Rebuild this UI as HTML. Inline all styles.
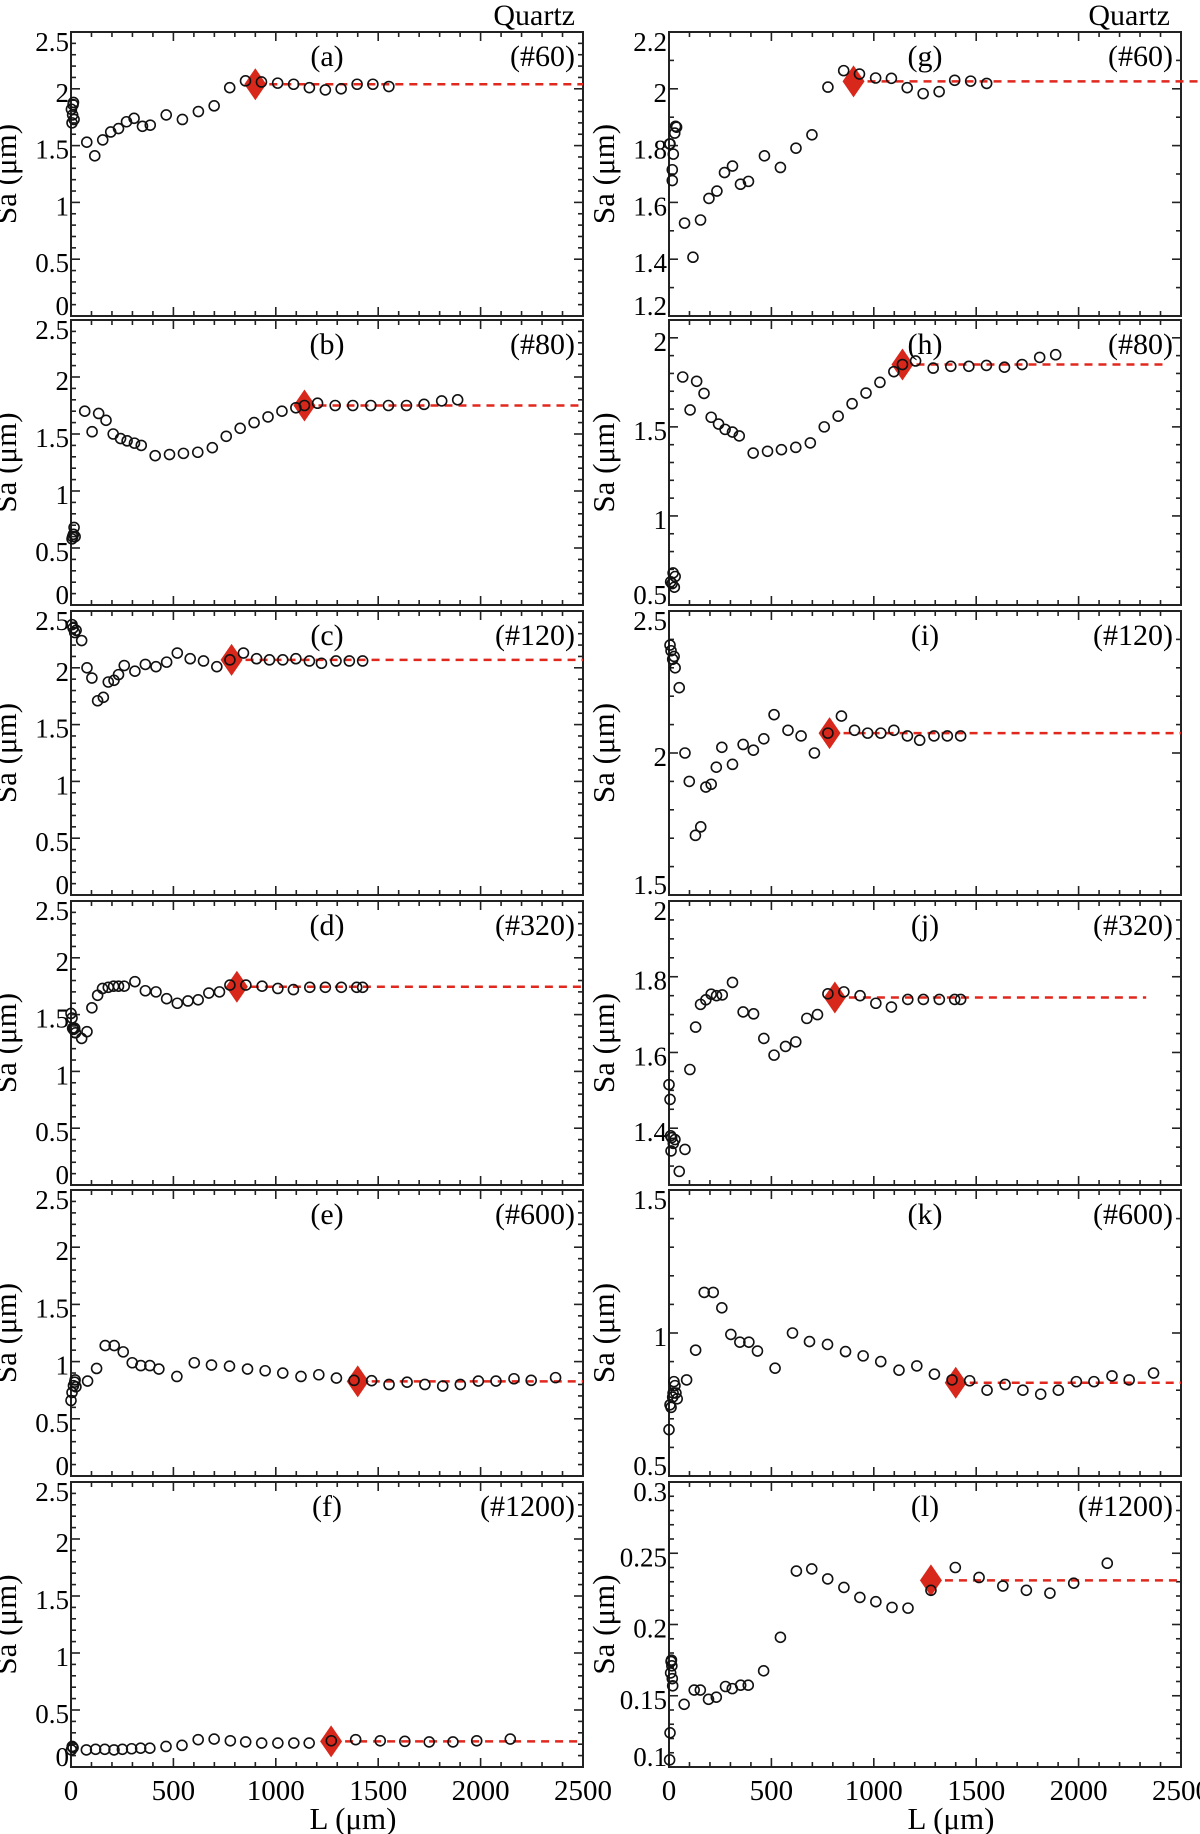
<!DOCTYPE html>
<html><head><meta charset="utf-8">
<style>
html,body{margin:0;padding:0;background:#fff;}
svg{display:block;}
text{font-family:"Liberation Serif",serif;fill:#000;}
</style></head>
<body>
<svg id="chart" width="1200" height="1834" viewBox="0 0 1200 1834" xmlns="http://www.w3.org/2000/svg">
<text x="575" y="25" font-size="30" text-anchor="end">Quartz</text>
<text x="1170" y="25" font-size="30" text-anchor="end">Quartz</text>
</svg>
<script>
// ---- data (L in µm, Sa in µm) ----
const aL=[2,5,8,10,12,15,77,116,155,194,232,271,308,349,387,465,544,622,699,775,852,930,1009,1087,1164,1242,1319,1397,1474,1552];
const aS=[1.82,1.70,1.77,1.86,1.88,1.73,1.53,1.41,1.55,1.62,1.65,1.71,1.74,1.67,1.68,1.77,1.73,1.80,1.85,2.01,2.07,2.06,2.05,2.04,2.01,1.99,2.00,2.04,2.04,2.02];
const bL=[5,8,12,15,20,67,103,135,171,206,242,274,310,343,411,481,549,619,690,758,826,894,962,1030,1098,1140,1204,1290,1376,1464,1550,1638,1724,1810,1888];
const bS=[0.58,0.60,0.62,0.68,0.60,1.70,1.52,1.68,1.62,1.50,1.46,1.44,1.42,1.40,1.31,1.32,1.33,1.34,1.38,1.48,1.55,1.60,1.65,1.70,1.73,1.75,1.77,1.75,1.75,1.75,1.75,1.75,1.76,1.79,1.80];
const cL=[5,10,18,25,52,78,102,130,158,182,210,232,260,312,363,415,467,519,582,647,712,776,842,906,969,1034,1098,1164,1223,1294,1359,1424];
const cS=[2.38,2.35,2.31,2.33,2.24,2.00,1.91,1.71,1.74,1.875,1.89,1.94,2.02,1.97,2.03,2.01,2.05,2.13,2.08,2.06,2.01,2.07,2.13,2.08,2.07,2.07,2.08,2.06,2.04,2.06,2.06,2.06];
const dL=[0,5,8,12,18,22,52,78,102,130,154,182,208,232,260,312,363,415,467,519,571,621,673,725,776,854,933,1010,1086,1166,1242,1320,1395,1424];
const dS=[1.51,1.47,1.38,1.37,1.38,1.34,1.29,1.35,1.56,1.67,1.73,1.74,1.75,1.75,1.75,1.79,1.71,1.70,1.64,1.60,1.62,1.63,1.69,1.70,1.76,1.76,1.75,1.73,1.72,1.74,1.74,1.74,1.74,1.74];
const eL=[0,5,12,18,24,20,81,125,167,211,255,299,341,385,429,517,602,686,774,862,948,1034,1123,1210,1296,1382,1468,1553,1641,1728,1815,1901,1989,2075,2163,2247,2366];
const eS=[0.66,0.73,0.79,0.82,0.78,0.84,0.83,0.94,1.14,1.14,1.085,0.99,0.965,0.965,0.935,0.87,0.99,0.97,0.96,0.935,0.92,0.90,0.87,0.885,0.856,0.836,0.833,0.80,0.82,0.80,0.786,0.80,0.83,0.83,0.85,0.836,0.86];
const fL=[2,6,10,75,120,165,210,251,296,340,385,464,542,621,699,778,853,931,1010,1088,1163,1271,1390,1510,1630,1749,1865,1981,2145];
const fS=[0.15,0.18,0.17,0.15,0.155,0.155,0.15,0.155,0.16,0.165,0.165,0.18,0.19,0.24,0.245,0.23,0.22,0.21,0.21,0.21,0.21,0.23,0.24,0.23,0.225,0.22,0.22,0.23,0.245];
const gL=[3,5,16,16,21,28,32,37,76,117,154,195,234,271,310,349,388,466,544,620,698,776,853,930,1009,1086,1163,1241,1319,1395,1473,1551];
const gS=[1.806,1.806,1.677,1.715,1.77,1.844,1.868,1.865,1.527,1.407,1.538,1.614,1.64,1.705,1.728,1.664,1.674,1.764,1.723,1.791,1.838,2.006,2.064,2.052,2.038,2.037,2.004,1.983,1.99,2.03,2.027,2.019];
const hL=[8,15,20,26,30,67,103,135,171,206,242,274,310,343,411,481,549,619,690,758,826,894,962,1030,1098,1140,1204,1290,1376,1464,1550,1638,1724,1810,1888];
const hS=[0.63,0.62,0.68,0.60,0.66,1.78,1.595,1.756,1.688,1.554,1.516,1.486,1.471,1.449,1.353,1.363,1.372,1.385,1.41,1.50,1.56,1.63,1.69,1.75,1.81,1.85,1.87,1.83,1.84,1.84,1.845,1.835,1.85,1.89,1.905];
const iL=[5,10,18,25,30,50,78,99,129,155,180,206,231,258,310,362,412,463,513,581,645,710,776,842,906,970,1034,1098,1164,1224,1294,1359,1424];
const iS=[2.38,2.36,2.33,2.34,2.30,2.23,2.00,1.90,1.71,1.74,1.88,1.89,1.95,2.02,1.96,2.03,2.01,2.05,2.135,2.08,2.06,2.00,2.07,2.13,2.08,2.07,2.07,2.08,2.06,2.045,2.06,2.06,2.06];
const jL=[0,5,8,13,21,10,29,50,78,102,130,154,180,206,232,260,310,362,413,463,513,569,619,673,725,776,854,933,1010,1086,1166,1242,1320,1395,1424];
const jS=[1.515,1.476,1.38,1.375,1.36,1.34,1.37,1.286,1.344,1.555,1.667,1.727,1.739,1.754,1.75,1.752,1.785,1.707,1.702,1.637,1.593,1.616,1.628,1.69,1.70,1.755,1.76,1.75,1.73,1.72,1.74,1.74,1.74,1.74,1.74];
const kL=[0,5,10,18,24,29,34,40,20,86,130,172,216,258,302,346,390,432,518,603,686,774,862,948,1034,1123,1210,1296,1382,1468,1553,1641,1728,1815,1901,1989,2075,2163,2247,2366];
const kS=[0.662,0.749,0.74,0.776,0.83,0.816,0.79,0.77,0.79,0.836,0.94,1.142,1.142,1.088,0.995,0.968,0.968,0.937,0.877,1.0,0.97,0.96,0.935,0.92,0.90,0.87,0.885,0.856,0.836,0.833,0.80,0.82,0.80,0.786,0.80,0.83,0.83,0.85,0.836,0.86];
const lL=[3,5,8,10,12,14,16,18,74,123,153,193,231,276,309,350,387,462,544,622,697,775,854,932,1010,1089,1167,1279,1398,1514,1630,1745,1860,1976,2140];
const lS=[0.105,0.124,0.166,0.174,0.175,0.171,0.162,0.157,0.144,0.154,0.154,0.1475,0.149,0.1565,0.155,0.1574,0.1574,0.1675,0.191,0.2375,0.239,0.232,0.226,0.219,0.216,0.212,0.2115,0.224,0.240,0.233,0.227,0.224,0.222,0.229,0.243];
// plateau markers: [L, Sa] and dashed plateau line end L
const markL=[900,1140,784,810,1400,1270,901,1140,784,810,1400,1279];
const markS=[2.04,1.75,2.07,1.745,0.827,0.225,2.026,1.85,2.07,1.745,0.826,0.231];
const lineEndL=[2500,2500,2500,2500,2500,2500,3060,2417,2500,2330,2500,2500];
// axis ranges and tick labels
const yMin=[0,0,0,0,0,0,1.2,0.5,1.5,1.25,0.5,0.1];
const yMax=[2.5,2.5,2.5,2.5,2.5,2.5,2.2,2.1,2.5,2.0,1.5,0.3];
const yMajor=[0.5,0.5,0.5,0.5,0.5,0.5,0.2,0.5,0.5,0.2,0.5,0.05];
const yMinor=[0.1,0.1,0.1,0.1,0.1,0.1,0.1,0.1,0.1,0.05,0.1,0.01];
const yTickLabels=[
 ["0","0.5","1","1.5","2","2.5"],["0","0.5","1","1.5","2","2.5"],["0","0.5","1","1.5","2","2.5"],
 ["0","0.5","1","1.5","2","2.5"],["0","0.5","1","1.5","2","2.5"],["0","0.5","1","1.5","2","2.5"],
 ["1.2","1.4","1.6","1.8","2","2.2"],["0.5","1","1.5","2"],["1.5","2","2.5"],["1.4","1.6","1.8","2"],["0.5","1","1.5"],["0.1","0.15","0.2","0.25","0.3"]];
const xTicks=[0,500,1000,1500,2000,2500];
const xTickLabels=["0","500","1000","1500","2000","2500"];
const panelLetters=["(a)","(b)","(c)","(d)","(e)","(f)","(g)","(h)","(i)","(j)","(k)","(l)"];
const panelGrits=["(#60)","(#80)","(#120)","(#320)","(#600)","(#1200)","(#60)","(#80)","(#120)","(#320)","(#600)","(#1200)"];
const allL=[aL,bL,cL,dL,eL,fL,gL,hL,iL,jL,kL,lL];
const allS=[aS,bS,cS,dS,eS,fS,gS,hS,iS,jS,kS,lS];

const NS="http://www.w3.org/2000/svg";
const svg=document.getElementById('chart');
function mk(tag,attrs,parent){const e=document.createElementNS(NS,tag);for(const k in attrs)e.setAttribute(k,attrs[k]);(parent||svg).appendChild(e);return e;}
const colX=[71,669], colW=512;
const rowTop=[32,320,611,901,1190,1482], rowH=[284,285,284,284,286,285];
const names="abcdefghijkl";
for(let p=0;p<12;p++){
  const col=p<6?0:1,row=p%6;
  const x0=colX[col],x1=x0+colW,y0=rowTop[row],y1=y0+rowH[row];
  const xs=L=>x0+L/2500*colW;
  const ys=v=>y1-(v-yMin[p])/(yMax[p]-yMin[p])*(y1-y0);
  const g=mk('g',{});
  
  
  const fr=mk('rect',{x:x0,y:y0,width:colW,height:y1-y0,fill:'none',stroke:'#222','stroke-width':2},g);
  
  
  for(let L=0;L<=2500;L+=100){
    const len=(L%500===0)?9:5,X=xs(L);
    mk('line',{x1:X,x2:X,y1:y1,y2:y1-len,stroke:'#222','stroke-width':1.6},g);
    mk('line',{x1:X,x2:X,y1:y0,y2:y0+len,stroke:'#222','stroke-width':1.6},g);
  }
  const nMin=Math.round((yMax[p]-yMin[p])/yMinor[p]);
  for(let k=0;k<=nMin;k++){
    const v=yMin[p]+k*yMinor[p];
    const r=(v/yMajor[p]);const major=Math.abs(r-Math.round(r))<1e-6;
    const len=major?9:5,Y=ys(v);
    mk('line',{x1:x0,x2:x0+len,y1:Y,y2:Y,stroke:'#222','stroke-width':1.6},g);
    mk('line',{x1:x1,x2:x1-len,y1:Y,y2:Y,stroke:'#222','stroke-width':1.6},g);
  }
  yTickLabels[p].forEach(s=>{
    const v=parseFloat(s);let Y=ys(v)+4;
    Y=Math.max(y0+10,Math.min(y1-10,Y));
    const t=mk('text',{x:x0-2,y:Y+9,'font-size':27,'text-anchor':'end'},g);
    t.textContent=s;
    
    
  });
  const yt=mk('text',{x:0,y:0,'font-size':31,'text-anchor':'middle',transform:`translate(${x0-55},${(y0+y1)/2}) rotate(-90)`},g);
  yt.textContent='Sa (μm)';
  
  
  const pl=mk('text',{x:x0+256,y:y0+34,'font-size':30,'text-anchor':'middle'},g);
  pl.textContent=panelLetters[p];
  
  
  const gl=mk('text',{x:x1-8,y:y0+34,'font-size':30,'text-anchor':'end'},g);
  gl.textContent=panelGrits[p];
  
  
  const ln=mk('line',{x1:xs(markL[p]),x2:xs(lineEndL[p]),y1:ys(markS[p]),y2:ys(markS[p]),stroke:'#e0281e','stroke-width':2.5,'stroke-dasharray':'8 6'},g);
  
  
  const dx=xs(markL[p]),dy=ys(markS[p]);
  const dm=mk('polygon',{points:`${dx},${dy-16} ${dx+11},${dy} ${dx},${dy+16} ${dx-11},${dy}`,fill:'#d8281c'},g);
  
  
  const Ls=allL[p],Ss=allS[p];
  for(let i=0;i<Ls.length;i++){
    const c=mk('circle',{cx:xs(Ls[i]),cy:ys(Ss[i]),r:5,fill:'none',stroke:'#111','stroke-width':1.6},g);
    
    
  }
  if(row===5){
    xTicks.forEach((L,i)=>{
      const t=mk('text',{x:xs(L),y:y1+33,'font-size':29,'text-anchor':'middle'},g);
      t.textContent=xTickLabels[i];
      
      
    });
    const xt=mk('text',{x:x0+282,y:y1+62,'font-size':31,'text-anchor':'middle'},g);
    xt.textContent='L (μm)';
    
    
  }
}
</script>
</body></html>
